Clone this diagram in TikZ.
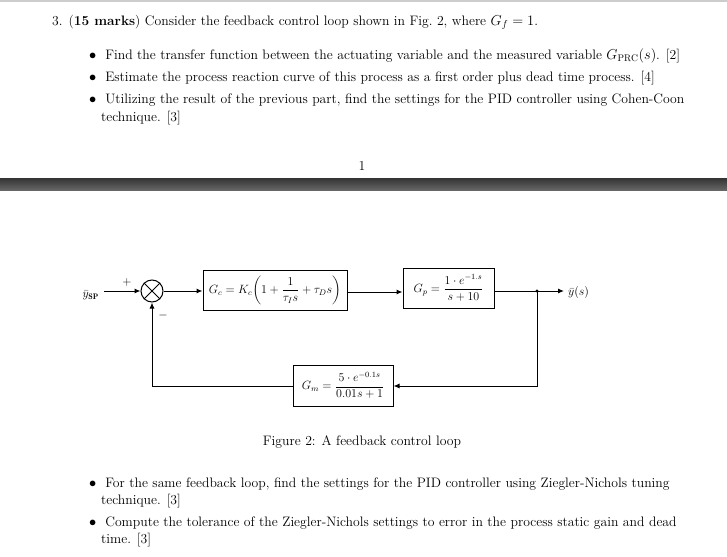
\documentclass[tikz,border=0pt]{standalone}
\usepackage{amsmath}
\usepackage{fontspec}
\newfontfamily\dfont{Liberation Serif}
\usetikzlibrary{arrows.meta}
\begin{document}
\begin{tikzpicture}[x=1pt,y=-1pt,
  txt/.style={anchor=west,inner sep=0pt,font=\fontsize{13.7}{15}\selectfont},
  blk/.style={draw,line width=1pt,inner sep=0pt,font=\fontsize{11.5}{13}\selectfont},
  sig/.style={line width=1pt,-{Latex[length=6pt,width=5pt]}},
  ln/.style={line width=1pt},
  lab/.style={font=\fontsize{11.5}{13}\selectfont,inner sep=0pt}]
\useasboundingbox (0,0) rectangle (727,556);
\fill[gray!40] (0,0) rectangle (727,2);
\shade[top color=black!80,bottom color=black!60] (0,178) rectangle (727,190);
\node[txt] (l1) at (52,22) {3. (\textbf{15 marks}) Consider the feedback control loop shown in Fig.~2, where $G_f=1$.};
\node[txt] (b1) at (89,56) {$\bullet$\ \ Find the transfer function between the actuating variable and the measured variable $G_{\mathrm{PRC}}(s)$. [2]};
\node[txt] (b2) at (89,78) {$\bullet$\ \ Estimate the process reaction curve of this process as a first order plus dead time process. [4]};
\node[txt] (b3) at (89,100) {$\bullet$\ \ Utilizing the result of the previous part, find the settings for the PID controller using Cohen-Coon};
\node[txt] (b3b) at (101,118) {technique. [3]};
\node[txt,anchor=center] (pg) at (362,166) {1};
% diagram
\node[draw,circle,line width=1pt,minimum size=22pt,inner sep=0pt] (sum) at (152,291) {};
\draw[line width=1pt] (sum.north west) -- (sum.south east) (sum.north east) -- (sum.south west);
\node[lab,anchor=east] (ysp) at (99,295) {$\bar y_{\mathbf{SP}}$};
\coordinate (in) at (104,291);
\node[blk,minimum width=144pt,minimum height=40pt] (gc) at (275,290.5) {$G_c = K_c\!\left(1+\dfrac{1}{\tau_I s}+\tau_D s\right)$};
\node[blk,minimum width=91pt,minimum height=40pt] (gp) at (448.5,288) {$G_p=\dfrac{1\cdot e^{-1.s}}{s+10}$};
\node[blk,minimum width=100pt,minimum height=41pt] (gm) at (343,385.5) {$G_m=\dfrac{5\cdot e^{-0.1s}}{0.01s+1}$};
\coordinate (br) at (537,291);
\coordinate (out) at (564,291);
\node[lab,anchor=west] (y) at (568,292) {$\bar y(s)$};
\draw[sig] (in) -- (sum.west);
\draw[sig] (sum.east) -- (gc.west |- sum.east);
\draw[sig] (gc.east |- 0,292) -- (gp.west |- 0,292);
\draw[ln] (gp.east |- br) -- (br);
\fill (br) circle (1.6pt);
\draw[sig] (br) -- (out);
\draw[sig] (br) |- (gm.east |- 0,386);
\draw[sig] (gm.west |- 0,386) -| (sum.south);
\node[lab] (plus) at (127,282) {$+$};
\node[lab] (minus) at (163,315) {$-$};
\node[txt,anchor=center] (cap) at (362,442) {Figure 2: A feedback control loop};
\node[txt] (b4) at (89,484) {$\bullet$\ \ For the same feedback loop, find the settings for the PID controller using Ziegler-Nichols tuning};
\node[txt] (b4b) at (101,501) {technique. [3]};
\node[txt] (b5) at (89,523) {$\bullet$\ \ Compute the tolerance of the Ziegler-Nichols settings to error in the process static gain and dead};
\node[txt] (b5b) at (101,540) {time. [3]};
\end{tikzpicture}
\end{document}
